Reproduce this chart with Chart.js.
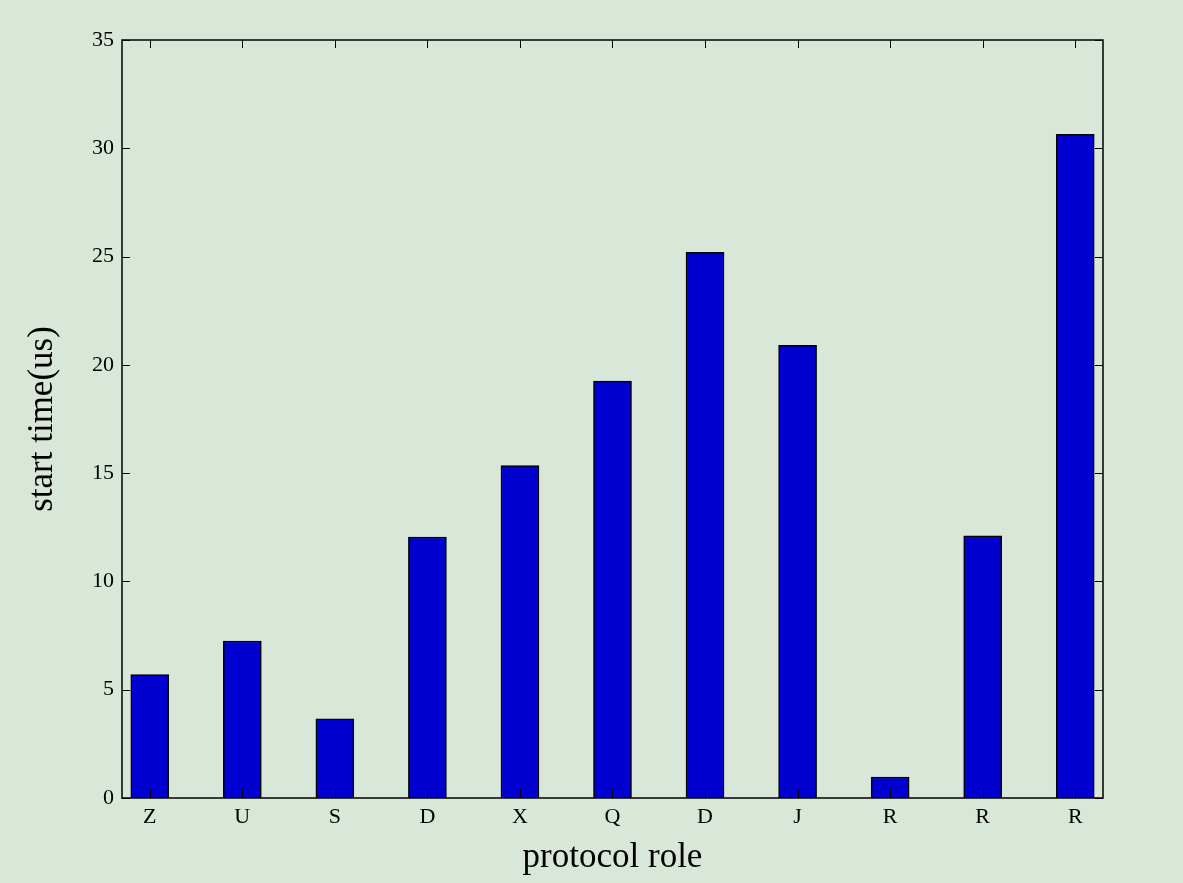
<!DOCTYPE html>
<html><head>
<script src="https://cdn.jsdelivr.net/npm/chart.js@4/dist/chart.umd.min.js"></script>
<style>html,body{margin:0;background:#d8e7d7;}#c{display:block;}</style>
</head><body>
<div style="width:1183px;height:883px"><canvas id="c"></canvas></div>
<script>
const categories = ['Z', 'U', 'S', 'D', 'X', 'Q', 'D', 'J', 'R', 'R', 'R'];
const startTimes = [5.7, 7.25, 3.65, 12.05, 15.35, 19.25, 25.2, 20.9, 0.97, 12.1, 30.65];
const yTicks = [0, 5, 10, 15, 20, 25, 30, 35];

const FONT = "'Liberation Serif', 'DejaVu Serif', serif";

// inward ticks on all four sides, like the original plot
const inwardTicks = {
  id: 'inwardTicks',
  afterDraw(chart) {
    const { ctx, chartArea: a, scales: { x, y } } = chart;
    ctx.save();
    ctx.strokeStyle = '#000';
    ctx.lineWidth = 1;
    ctx.beginPath();
    categories.forEach((_, i) => {
      const px = Math.round(x.getPixelForValue(i)) + 0.5;
      ctx.moveTo(px, a.bottom); ctx.lineTo(px, a.bottom - 8);
      ctx.moveTo(px, a.top); ctx.lineTo(px, a.top + 8);
    });
    yTicks.forEach(v => {
      const py = Math.round(y.getPixelForValue(v)) + 0.5;
      ctx.moveTo(a.left, py); ctx.lineTo(a.left + 8, py);
      ctx.moveTo(a.right, py); ctx.lineTo(a.right - 8, py);
    });
    ctx.stroke();
    ctx.lineWidth = 1.5;
    ctx.strokeRect(a.left, a.top, a.right - a.left, a.bottom - a.top);
    ctx.restore();
  }
};

new Chart(document.getElementById('c'), {
  type: 'bar',
  data: {
    datasets: [{
      data: startTimes.map((v, i) => ({ x: i, y: v })),
      backgroundColor: '#0000d0',
      borderColor: '#000',
      borderWidth: 1.5,
      barThickness: 38
    }]
  },
  options: {
    responsive: true,
    maintainAspectRatio: false,
    animation: false,
    layout: { padding: { top: 40, right: 80, left: 0, bottom: 0 } },
    plugins: { legend: { display: false }, tooltip: { enabled: false } },
    scales: {
      x: {
        type: 'linear',
        offset: false,
        min: -0.3, max: 10.3,
        grid: { display: false, drawTicks: false, offset: false },
        border: { display: false },
        afterBuildTicks: s => { s.ticks = categories.map((_, i) => ({ value: i })); },
        afterFit: s => { s.height = 85; },
        ticks: {
          autoSkip: false, maxRotation: 0, padding: 6,
          color: '#000', font: { family: FONT, size: 22 },
          callback: v => categories[v]
        },
        title: { display: true, text: 'protocol role', color: '#000', font: { family: FONT, size: 35 }, padding: { top: 2 } }
      },
      y: {
        min: 0, max: 35,
        grid: { display: false, drawTicks: false },
        border: { display: false },
        afterBuildTicks: s => { s.ticks = yTicks.map(v => ({ value: v })); },
        afterFit: s => { s.width = 122; },
        ticks: { padding: 8, color: '#000', font: { family: FONT, size: 22 } },
        title: { display: true, text: 'start time(us)', color: '#000', font: { family: FONT, size: 35 }, padding: { top: 22, bottom: 10 } }
      }
    }
  },
  plugins: [inwardTicks]
});
</script>
</body></html>
